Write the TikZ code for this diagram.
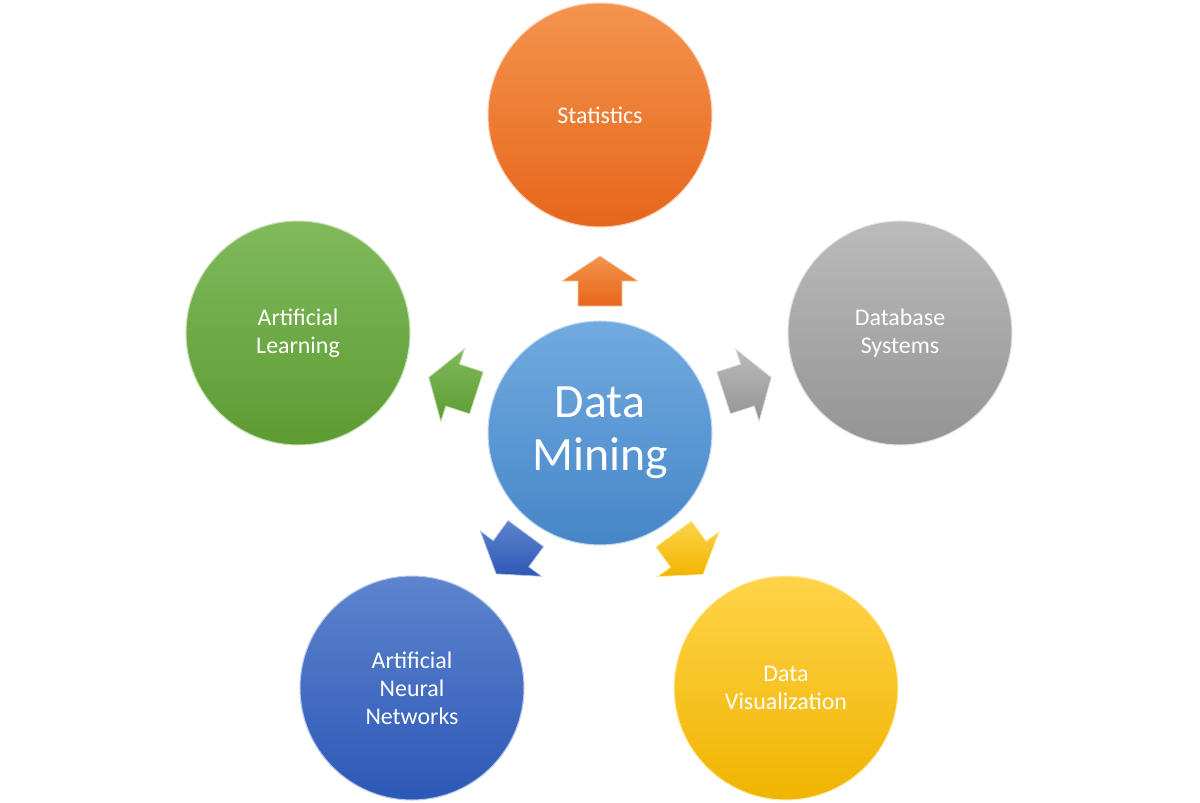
\documentclass[tikz,border=0pt]{standalone}
\usepackage{fontspec}
\setmainfont{Carlito}
\definecolor{orT}{HTML}{F4944E}\definecolor{orB}{HTML}{E6661A}
\definecolor{grT}{HTML}{BBBBBB}\definecolor{grB}{HTML}{949494}
\definecolor{gnT}{HTML}{80BA5C}\definecolor{gnB}{HTML}{5C9C32}
\definecolor{blT}{HTML}{72AAE0}\definecolor{blB}{HTML}{4686C8}
\definecolor{dbT}{HTML}{5E84CE}\definecolor{dbB}{HTML}{2C58B6}
\definecolor{ylT}{HTML}{FFD44A}\definecolor{ylB}{HTML}{F0B400}
\begin{document}
\begin{tikzpicture}[x=0.05cm,y=-0.05cm,
  ball/.style n args={2}{circle,minimum size=11.2cm,inner sep=0pt,top color=#1,bottom color=#2,draw=white!55!#1,line width=1.5pt,text=white,align=center,font=\fontsize{34}{40}\selectfont},
  blk/.style n args={2}{top color=#1,bottom color=#2,draw=white!50!#1,line width=1pt}]
\useasboundingbox (0,0) rectangle (1200,803);
\node[ball={orT}{orB}] (st) at (600,115) {Statistics};
\node[ball={grT}{grB}] (db) at (900,333) {Database\\Systems};
\node[ball={gnT}{gnB}] (al) at (298,333) {Artificial\\Learning};
\node[ball={dbT}{dbB}] (ann) at (412,688) {Artificial\\Neural\\Networks};
\node[ball={ylT}{ylB}] (dv) at (786,688) {Data\\Visualization};
\node[ball={blT}{blB},font=\fontsize{68}{76}\selectfont] (dm) at (600,433) {Data\\Mining};
\foreach \a/\t/\b/\d in {90/orT/orB/152, 18/grT/grB/155, 162/gnT/gnB/155, 233.6/dbT/dbB/150, 306.1/ylT/ylB/150}{
  \begin{scope}[shift={(dm.center)},rotate=\a]
    \draw[blk={\t}{\b}] (\d-25,-22) -- (\d,-22) -- (\d,-38) -- (\d+25,0) -- (\d,38) -- (\d,22) -- (\d-25,22) -- cycle;
  \end{scope}}
\end{tikzpicture}
\end{document}
